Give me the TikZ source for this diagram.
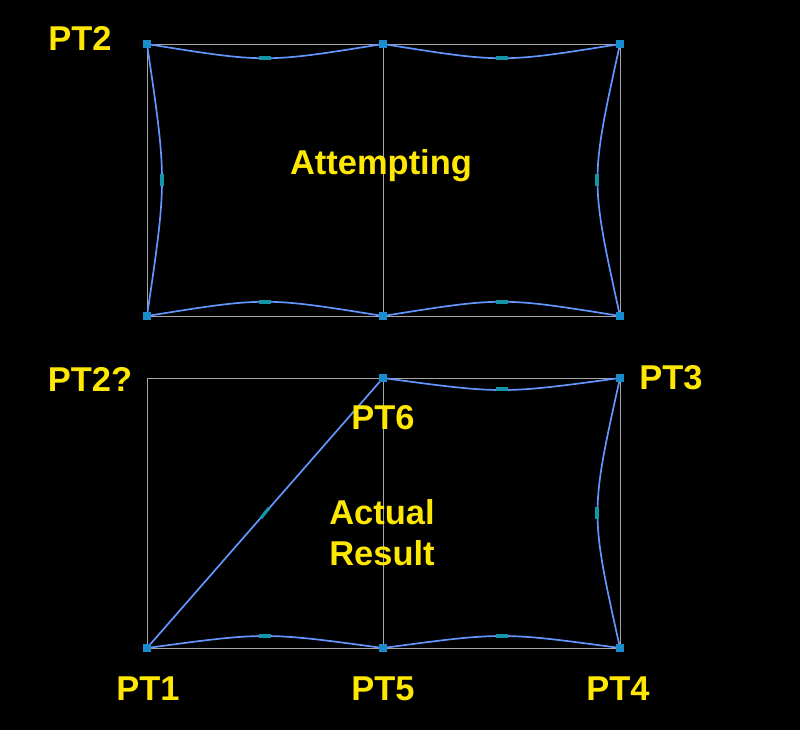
\documentclass[tikz,border=0pt]{standalone}
\usepackage{fontspec}
\setmainfont{Liberation Sans}
\begin{document}
\begin{tikzpicture}[x=0.025cm,y=-0.025cm,
  lbl/.style={text=yellow!90!orange,font=\bfseries\fontsize{24.5}{29}\selectfont,inner sep=0pt,align=center},
  frame/.style={draw=gray!70!white,line width=0.5pt},
  crv/.style={draw={rgb,255:red,100;green,150;blue,255},line width=1.2pt},
  tick/.style={draw={rgb,255:red,20;green,150;blue,170},line width=2.2pt},
  pt/.style={fill={rgb,255:red,25;green,140;blue,205},minimum size=0.22cm,inner sep=0pt,rectangle}]
\fill[black] (0,0) rectangle (800,730);
\useasboundingbox (0,0) rectangle (800,730);
% top frame
\coordinate (a1) at (147,44); \coordinate (a2) at (383,44); \coordinate (a3) at (620,44);
\coordinate (b1) at (147,316); \coordinate (b2) at (383,316); \coordinate (b3) at (620,316);
\draw[frame] (a1) rectangle (b3); \draw[frame] (a2) -- (b2);
\draw[crv] (a1) .. controls (265,63) .. (a2);
\draw[crv] (a2) .. controls (502,63) .. (a3);
\draw[crv] (b1) .. controls (265,297) .. (b2);
\draw[crv] (b2) .. controls (502,297) .. (b3);
\draw[crv] (a1) .. controls (167,180) .. (b1);
\draw[crv] (a3) .. controls (590,180) .. (b3);
\draw[tick] (259,58) -- (271,58); \draw[tick] (496,58) -- (508,58);
\draw[tick] (259,302) -- (271,302); \draw[tick] (496,302) -- (508,302);
\draw[tick] (162,174) -- (162,186); \draw[tick] (597,174) -- (597,186);
\foreach \p in {a1,a2,a3,b1,b2,b3} \node[pt] at (\p) {};
% bottom frame
\coordinate (c1) at (147,378); \coordinate (c2) at (383,378); \coordinate (c3) at (620,378);
\coordinate (d1) at (147,648); \coordinate (d2) at (383,648); \coordinate (d3) at (620,648);
\draw[frame] (c1) rectangle (d3); \draw[frame] (c2) -- (d2);
\draw[crv] (d1) -- (c2);
\draw[crv] (c2) .. controls (502,394) .. (c3);
\draw[crv] (d1) .. controls (265,632) .. (d2);
\draw[crv] (d2) .. controls (502,632) .. (d3);
\draw[crv] (c3) .. controls (590,513) .. (d3);
\draw[tick] (261,518) -- (269,508);
\draw[tick] (496,389) -- (508,389);
\draw[tick] (259,636) -- (271,636); \draw[tick] (496,636) -- (508,636);
\draw[tick] (597,507) -- (597,519);
\foreach \p in {c2,c3,d1,d2,d3} \node[pt] at (\p) {};
% labels
\node[lbl] (l1) at (80,38) {PT2};
\node[lbl] (l2) at (381,166) {Attempting};
\node[lbl] (l3) at (90,379) {PT2?};
\node[lbl] (l4) at (671,378) {PT3};
\node[lbl] (l5) at (383,418) {PT6};
\node[lbl] (l6) at (382,533) {Actual\\Result};
\node[lbl] (l7) at (148,689) {PT1};
\node[lbl] (l8) at (383,689) {PT5};
\node[lbl] (l9) at (618,689) {PT4};
\end{tikzpicture}
\end{document}
